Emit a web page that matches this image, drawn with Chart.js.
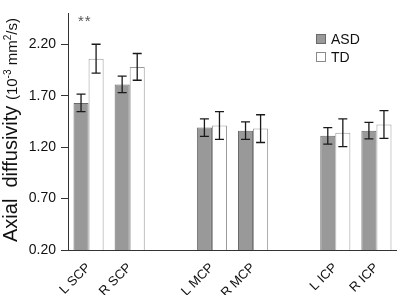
<!DOCTYPE html>
<html>
<head>
<meta charset="utf-8">
<script src="https://cdn.jsdelivr.net/npm/chart.js@4/dist/chart.umd.min.js"></script>
<style>
  body { margin: 0; background: #fff; font-family: "Liberation Sans", Arial, sans-serif; }
  #wrap { position: relative; width: 397px; height: 295px; }
  #ytitle {
    position: absolute; left: 0; top: 0; width: 295px; height: 20px;
    transform-origin: top left; transform: rotate(-90deg) translate(-100%, 0);
    white-space: nowrap; font-size: 20px; line-height: 20px; color: #111;
    padding-left: 53px; box-sizing: border-box;
  }
  #ytitle .unit { font-size: 15px; }
  #ytitle sup { font-size: 10px; vertical-align: 6px; line-height: 0; }
  .leg { position: absolute; left: 316px; font-size: 14px; line-height: 14px; color: #111; }
  .leg i { display: inline-block; width: 8px; height: 8px; margin-right: 5px; vertical-align: 0px; }
  #star { position: absolute; left: 78px; top: 14px; font-size: 15px; line-height: 14px; color: #555; letter-spacing: 1px; }
</style>
</head>
<body>
<div id="wrap">
  <canvas id="chart" width="397" height="295"></canvas>
  <div id="ytitle">Axial&nbsp; diffusivity <span class="unit">(10<sup>-3</sup> mm<sup>2</sup>/s)</span></div>
  <div class="leg" style="top:32px"><i style="background:#999;border:1px solid #6a6a6a"></i>ASD</div>
  <div class="leg" style="top:50px"><i style="background:#fff;border:1px solid #8a8a8a"></i>TD</div>
  <div id="star">**</div>
</div>
<script>
// regiones (los huecos separan SCP / MCP / ICP)
const labels = ['L SCP', 'R SCP', '', 'L MCP', 'R MCP', '', 'L ICP', 'R ICP'];
const asdMean = [1.63, 1.81, null, 1.39, 1.36, null, 1.31, 1.36];
const asdErr  = [0.085, 0.08, null, 0.085, 0.085, null, 0.08, 0.08];
const tdMean  = [2.06, 1.98, null, 1.41, 1.38, null, 1.34, 1.42];
const tdErr   = [0.14, 0.13, null, 0.135, 0.135, null, 0.135, 0.135];
const yTicks  = [0.2, 0.7, 1.2, 1.7, 2.2];

// barras de error dibujadas con la escala y
const errorBars = {
    id: 'errorBars',
    afterDatasetsDraw(chart) {
        const ctx = chart.ctx;
        const y = chart.scales.y;
        chart.data.datasets.forEach((ds, di) => {
            const meta = chart.getDatasetMeta(di);
            meta.data.forEach((bar, i) => {
                const v = ds.data[i], e = ds.errors[i];
                if (v == null || e == null) return;
                const top = y.getPixelForValue(v + e);
                const bot = y.getPixelForValue(v - e);
                ctx.save();
                ctx.strokeStyle = '#1a1a1a';
                ctx.lineWidth = 1.3;
                ctx.beginPath();
                ctx.moveTo(bar.x, top); ctx.lineTo(bar.x, bot);
                ctx.moveTo(bar.x - 4.5, top); ctx.lineTo(bar.x + 4.5, top);
                ctx.moveTo(bar.x - 4.5, bot); ctx.lineTo(bar.x + 4.5, bot);
                ctx.stroke();
                ctx.restore();
            });
        });
    }
};

new Chart(document.getElementById('chart').getContext('2d'), {
    type: 'bar',
    data: {
        labels: labels,
        datasets: [{
            label: 'ASD',
            data: asdMean,
            errors: asdErr,
            backgroundColor: '#999999',
            borderColor: '#6a6a6a',
            borderWidth: 1
        }, {
            label: 'TD',
            data: tdMean,
            errors: tdErr,
            backgroundColor: '#ffffff',
            borderColor: '#9a9a9a',
            borderWidth: 1
        }]
    },
    options: {
        responsive: false,
        animation: false,
        devicePixelRatio: 1,
        layout: { padding: { top: 2, right: 0, left: 0, bottom: 0 } },
        datasets: { bar: { categoryPercentage: 0.732, barPercentage: 1 } },
        plugins: { legend: { display: false }, tooltip: { enabled: false } },
        scales: {
            x: {
                grid: { display: false },
                border: { display: true, color: '#333', width: 1 },
                ticks: {
                    autoSkip: false, minRotation: 45, maxRotation: 45,
                    color: '#111', padding: 2,
                    font: { family: 'Liberation Sans', size: 13 }
                },
                afterFit: (s) => { s.height = 45; }
            },
            y: {
                min: 0.2,
                max: 2.5,
                afterBuildTicks: (s) => { s.ticks = yTicks.map(v => ({ value: v })); },
                grid: { drawOnChartArea: false, tickLength: 7, color: '#333' },
                border: { display: true, color: '#333', width: 1 },
                ticks: {
                    color: '#111', padding: 5,
                    font: { family: 'Liberation Sans', size: 14 },
                    callback: (v) => Number(v).toFixed(2)
                },
                afterFit: (s) => { s.width = 68; }
            }
        }
    },
    plugins: [errorBars]
});
</script>
</body>
</html>
